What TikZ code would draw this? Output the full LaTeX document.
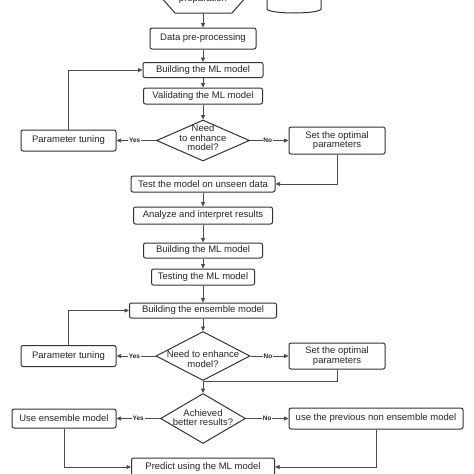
\documentclass[tikz,border=0pt]{standalone}
\usepackage{fontspec}
\setmainfont{Liberation Sans}
\usetikzlibrary{arrows.meta,shapes.geometric}
\begin{document}
\begin{tikzpicture}[x=1pt,y=-1pt,
 wh/.style 2 args={minimum width=#1pt, minimum height=#2pt},
 box/.style={draw=black!80, line width=1pt, rounded corners=2pt, fill=white, inner sep=0pt,
   font=\fontsize{9.5}{9.5}\selectfont, text=black!85, align=center},
 dia/.style={draw=black!80, line width=1pt, diamond, inner sep=0pt, fill=white},
 txt/.style={font=\fontsize{9.5}{9.5}\selectfont, text=black!85, align=center, inner sep=0pt},
 con/.style={draw=black!70, line width=0.75pt, -{Triangle[length=4.5pt,width=4pt]}},
 plain/.style={draw=black!70, line width=0.75pt},
 lbl/.style={font=\fontsize{6.5}{7}\selectfont\bfseries, fill=white, inner sep=0.8pt, text=black!85}]
\useasboundingbox (0,0) rectangle (474,474);
\fill[white] (0,0) rectangle (474,474);

% top fragments
\draw[draw=black!80, line width=1pt, fill=white]
  (175,13) -- (232,13) -- (247,-4) -- (232,-21) -- (175,-21) -- (160,-4) -- cycle;
\coordinate (prep) at (203,13);
\node[txt] (preptxt) at (203,-1) {preparation};
\draw[draw=black!80, line width=1pt]
  (267,-20) -- (267,9) arc[start angle=180, end angle=0, x radius=27, y radius=4] -- (321,-20);

% nodes
\node[box, wh={106}{21}] (pre) at (203,38.5) {Data pre-processing};
\node[box, wh={120}{15}] (b1) at (203,70) {Building the ML model};
\node[box, wh={119}{16}] (v1) at (203,96) {Validating the ML model};
\node[dia, wh={93}{41}] (d1) at (203,140.5) {};
\node[txt] (d1t) at (203,138) {Need\\to enhance\\model?};
\node[box, wh={95}{21}] (pt1) at (68.5,140.5) {Parameter tuning};
\node[box, wh={96}{27}] (so1) at (337,140.5) {Set the optimal\\parameters};
\node[box, wh={144}{16}] (test) at (203,184) {Test the model on unseen data};
\node[box, wh={139}{17}] (ana) at (203,215.5) {Analyze and interpret results};
\node[box, wh={119}{15}] (b2) at (203,250.5) {Building the ML model};
\node[box, wh={103}{16}] (t2) at (203,277) {Testing the ML model};
\node[box, wh={147}{15}] (ens) at (203,310.5) {Building the ensemble model};
\node[dia, wh={94}{49}] (d2) at (203,356) {};
\node[txt] (d2t) at (203,359) {Need to enhance\\model?};
\node[box, wh={95}{21}] (pt2) at (68.5,356) {Parameter tuning};
\node[box, wh={96}{26}] (so2) at (337,356) {Set the optimal\\parameters};
\node[dia, wh={85}{50}] (d3) at (203,418.5) {};
\node[txt] (d3t) at (203,417.5) {Achieved\\better results?};
\node[box, wh={104}{19}] (ue) at (64,418.5) {Use ensemble model};
\node[box, wh={174}{21}] (up) at (376,418.5) {use the previous non ensemble model};
\node[box, wh={143}{18}] (pred) at (203,467) {Predict using the ML model};

% vertical connectors
\draw[con] (prep) -- (pre.north);
\draw[con] (pre.south) -- (b1.north);
\draw[con] (b1.south) -- (v1.north);
\draw[con] (v1.south) -- (d1.north);
\draw[con] (test.south) -- (ana.north);
\draw[con] (ana.south) -- (b2.north);
\draw[con] (b2.south) -- (t2.north);
\draw[con] (t2.south) -- (ens.north);
\draw[con] (ens.south) -- (d2.north);
\draw[con] (d2.south) -- (d3.north);

% decisions
\draw[con] (d1.west) -- node[lbl, pos=0.54] {Yes} (pt1.east);
\draw[con] (d1.east) -- node[lbl, pos=0.46] {No} (so1.west);
\draw[con] (d2.west) -- node[lbl, pos=0.54] {Yes} (pt2.east);
\draw[con] (d2.east) -- node[lbl, pos=0.46] {No} (so2.west);
\draw[con] (d3.west) -- node[lbl, pos=0.5] {Yes} (ue.east);
\draw[con] (d3.east) -- node[lbl, pos=0.5] {No} (up.west);

% loops and joins
\draw[con] (pt1.north) |- (b1.west);
\draw[con] (so1.south) |- (test.east);
\draw[con] (pt2.north) |- (ens.west);
\draw[plain] (so2.south) |- (d2.south);
\draw[con] (ue.south) |- (pred.west);
\draw[con] (up.south) |- (pred.east);
\end{tikzpicture}
\end{document}
